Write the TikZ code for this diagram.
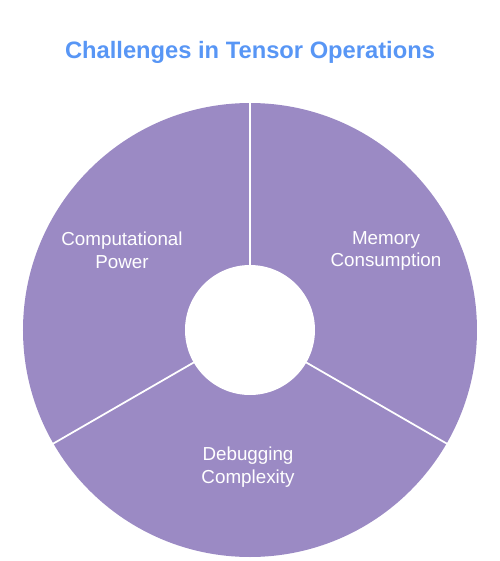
\documentclass[tikz,border=0pt]{standalone}
\usepackage{fontspec}
\setmainfont{Liberation Sans}
\usepackage{xcolor}
\usepackage{tikz}
\usetikzlibrary{positioning}
\definecolor{ringpurple}{RGB}{155,138,196}
\definecolor{titleblue}{RGB}{88,150,245}

\tikzset{
  seglabel/.style={font=\fontsize{10.7}{13}\selectfont, text=white, align=center},
  charttitle/.style={font=\fontsize{13.5}{16}\selectfont\bfseries, text=titleblue}
}

\begin{document}
\begin{tikzpicture}
  \useasboundingbox (-5,-4.62) rectangle (5,6.6);
  % Ring
  \fill[ringpurple] (0,0) circle (4.54);
  \fill[white] (0,0) circle (1.3);
  % Separators
  \foreach \a in {90,210,330}
    \draw[white, line width=1pt] (\a:1.29) -- (\a:4.56);

  % Labels
  \node[seglabel] (power) at (-2.56,1.6) {Computational\\Power};
  \node[seglabel] (memory) at (2.72,1.58) {Memory\\Consumption};
  \node[seglabel] (debug) at (-0.04,-2.74) {Debugging\\Complexity};

  % Title
  \node[charttitle] (title) at (0,5.56) {Challenges in Tensor Operations};
\end{tikzpicture}
\end{document}
